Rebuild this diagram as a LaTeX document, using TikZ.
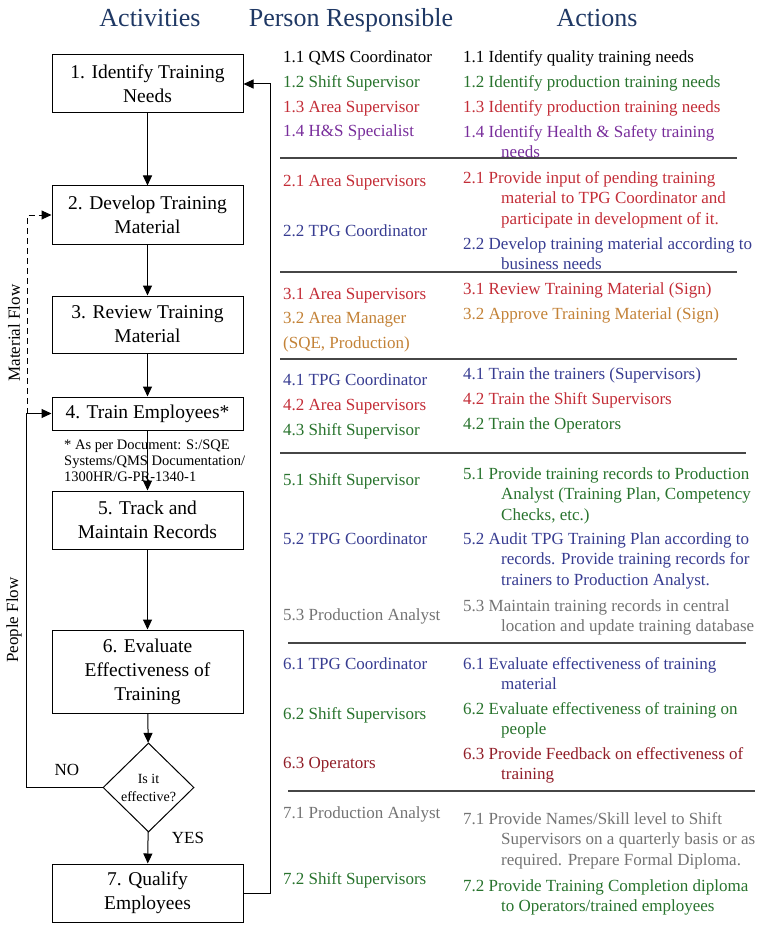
\documentclass[tikz,border=0pt]{standalone}
\usepackage{fontspec}
\setmainfont{Liberation Serif}
\usetikzlibrary{shapes.geometric,arrows.meta}
\definecolor{ttl}{RGB}{31,56,100}
\definecolor{cgreen}{RGB}{40,115,45}
\definecolor{cred}{RGB}{195,45,55}
\definecolor{cpurple}{RGB}{120,45,155}
\definecolor{cblue}{RGB}{55,60,145}
\definecolor{ctan}{RGB}{195,130,55}
\definecolor{cmaroon}{RGB}{145,30,40}
\definecolor{cgray}{RGB}{115,115,115}
\definecolor{sepc}{RGB}{70,70,70}
\newcommand{\ind}{\hspace*{38pt}}
\begin{document}
\begin{tikzpicture}[x=1pt,y=-1pt,
  box/.style={draw, line width=1pt, minimum width=191pt, inner sep=0pt, align=center, font=\fontsize{19.5}{24}\selectfont},
  dia/.style={draw, line width=1pt, diamond, minimum width=91pt, minimum height=89pt, inner sep=0pt, align=center, font=\fontsize{14}{18}\selectfont},
  arr/.style={line width=1pt, -{Triangle[length=10pt,width=9pt]}},
  ttlstyle/.style={anchor=base, text=ttl, font=\fontsize{26}{30}\selectfont, inner sep=0pt},
  txt/.style={anchor=base west, inner sep=0pt, align=left, font=\fontsize{17}{20.5}\selectfont},
  lbl/.style={inner sep=0pt, font=\fontsize{17}{20}\selectfont},
  sep/.style={draw=sepc, line width=1.2pt}
]
\useasboundingbox (0,0) rectangle (768,928);

% titles
\node[ttlstyle] (t1) at (150,26.5) {Activities};
\node[ttlstyle] (t2) at (351,26.5) {Person Responsible};
\node[ttlstyle] (t3) at (597,26.5) {Actions};

% flow boxes
\node[box, minimum height=58pt] (b1) at (147.5,84) {1. Identify Training\\Needs};
\node[box, minimum height=58pt] (b2) at (147.5,215) {2. Develop Training\\Material};
\node[box, minimum height=57pt] (b3) at (147.5,324.5) {3. Review Training\\Material};
\node[box, minimum height=33pt] (b4) at (147.5,413.5) {4. Train Employees*};
\node[box, minimum height=58pt] (b5) at (147.5,520) {5. Track and\\Maintain Records};
\node[box, minimum height=83pt] (b6) at (147.5,671.5) {6. Evaluate\\Effectiveness of\\Training};
\node[dia] (d) at (148.5,787.5) {Is it\\effective?};
\node[box, minimum height=58pt] (b7) at (147.5,893) {7. Qualify\\Employees};

% arrows
\draw[arr] (b1) -- (b2);
\draw[arr] (b2) -- (b3);
\draw[arr] (b3) -- (b4);
\draw[arr] (b4) -- (b5);
\draw[arr] (b5) -- (b6);
\draw[arr] (b6) -- (d);
\draw[arr] (d) -- (b7);
\draw[arr] (b7.east) -- ++(27,0) |- (b1.east);
\draw[arr] (d.west) -- ++(-76,0) |- (b4.west);
\coordinate (mf) at (27,413.5);
\draw[arr, dash pattern=on 6pt off 4pt] (mf) |- (b2.west);

% footnote
\node[anchor=north west, inner sep=0pt, align=left, font=\fontsize{14.5}{16}\selectfont] (fn) at (64,440)
  {* As per Document: S:/SQE\\Systems/QMS Documentation/\\1300HR/G-PR-1340-1};

% labels
\node[lbl] (no) at (67,770) {NO};
\node[lbl] (yes) at (188,838) {YES};
\node[lbl, rotate=90] (mflow) at (14,333) {Material Flow};
\node[lbl, rotate=90] (pflow) at (14,620) {People Flow};

% separators
\draw[sep] (280,158) -- (737,158);
\draw[sep] (280,272) -- (737,272);
\draw[sep] (280,359) -- (737,359);
\draw[sep] (280,453) -- (746,453);
\draw[sep] (288,643) -- (746,643);
\draw[sep] (288,791) -- (755,791);

% persons
\node[txt] (p11) at (283,63) {1.1 QMS Coordinator};
\node[txt, text=cgreen] (p12) at (283,88) {1.2 Shift Supervisor};
\node[txt, text=cred] (p13) at (283,113) {1.3 Area Supervisor};
\node[txt, text=cpurple] (p14) at (283,137) {1.4 H\&S Specialist};
\node[txt, text=cred] (p21) at (283,186) {2.1 Area Supervisors};
\node[txt, text=cblue] (p22) at (283,236) {2.2 TPG Coordinator};
\node[txt, text=cred] (p31) at (283,299) {3.1 Area Supervisors};
\node[txt, text=ctan, font=\fontsize{17}{25}\selectfont] (p32) at (283,348) {3.2 Area Manager\\(SQE, Production)};
\node[txt, text=cblue] (p41) at (283,385) {4.1 TPG Coordinator};
\node[txt, text=cred] (p42) at (283,410) {4.2 Area Supervisors};
\node[txt, text=cgreen] (p43) at (283,435) {4.3 Shift Supervisor};
\node[txt, text=cgreen] (p51) at (283,485) {5.1 Shift Supervisor};
\node[txt, text=cblue] (p52) at (283,544) {5.2 TPG Coordinator};
\node[txt, text=cgray] (p53) at (283,620) {5.3 Production Analyst};
\node[txt, text=cblue] (p61) at (283,669) {6.1 TPG Coordinator};
\node[txt, text=cgreen] (p62) at (283,719) {6.2 Shift Supervisors};
\node[txt, text=cmaroon] (p63) at (283,768) {6.3 Operators};
\node[txt, text=cgray] (p71) at (283,818) {7.1 Production Analyst};
\node[txt, text=cgreen] (p72) at (283,884) {7.2 Shift Supervisors};

% actions (anchor = baseline of the last line)
\node[txt] (a11) at (463,63) {1.1 Identify quality training needs};
\node[txt, text=cgreen] (a12) at (463,88) {1.2 Identify production training needs};
\node[txt, text=cred] (a13) at (463,113) {1.3 Identify production training needs};
\node[txt, text=cpurple] (a14) at (463,157.5) {1.4 Identify Health \& Safety training\\\ind needs};
\node[txt, text=cred] (a21) at (463,224) {2.1 Provide input of pending training\\\ind material to TPG Coordinator and\\\ind participate in development of it.};
\node[txt, text=cblue] (a22) at (463,269.5) {2.2 Develop training material according to\\\ind business needs};
\node[txt, text=cred] (a31) at (463,294) {3.1 Review Training Material (Sign)};
\node[txt, text=ctan] (a32) at (463,319) {3.2 Approve Training Material (Sign)};
\node[txt, text=cblue] (a41) at (463,379) {4.1 Train the trainers (Supervisors)};
\node[txt, text=cred] (a42) at (463,404) {4.2 Train the Shift Supervisors};
\node[txt, text=cgreen] (a43) at (463,429) {4.2 Train the Operators};
\node[txt, text=cgreen] (a51) at (463,520) {5.1 Provide training records to Production\\\ind Analyst (Training Plan, Competency\\\ind Checks, etc.)};
\node[txt, text=cblue] (a52) at (463,585) {5.2 Audit TPG Training Plan according to\\\ind records. Provide training records for\\\ind trainers to Production Analyst.};
\node[txt, text=cgray] (a53) at (463,631.5) {5.3 Maintain training records in central\\\ind location and update training database};
\node[txt, text=cblue] (a61) at (463,689.5) {6.1 Evaluate effectiveness of training\\\ind material};
\node[txt, text=cgreen] (a62) at (463,734.5) {6.2 Evaluate effectiveness of training on\\\ind people};
\node[txt, text=cmaroon] (a63) at (463,779.5) {6.3 Provide Feedback on effectiveness of\\\ind training};
\node[txt, text=cgray] (a71) at (463,865) {7.1 Provide Names/Skill level to Shift\\\ind Supervisors on a quarterly basis or as\\\ind required. Prepare Formal Diploma.};
\node[txt, text=cgreen] (a72) at (463,911.5) {7.2 Provide Training Completion diploma\\\ind to Operators/trained employees};
\end{tikzpicture}
\end{document}
